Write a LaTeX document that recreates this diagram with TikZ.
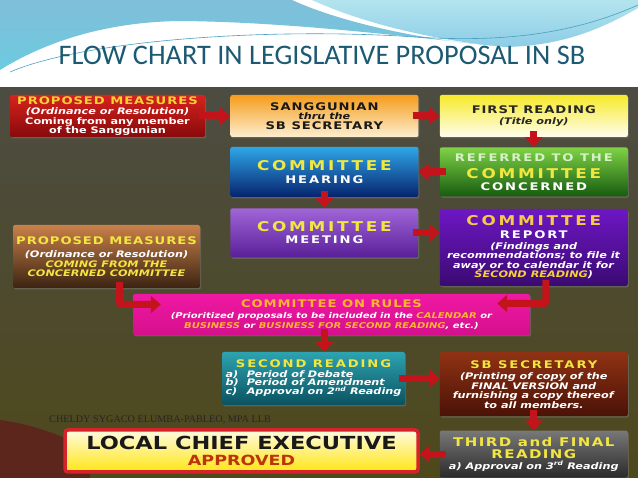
\documentclass[tikz,border=0pt]{standalone}
\usepackage{fontspec}
\usepackage{xcolor}
\usetikzlibrary{positioning, arrows.meta, shadows}
\setmainfont{DejaVu Sans}
\newfontfamily\boxfont[FakeStretch=1.25]{DejaVu Sans}
\newfontfamily\titlefont{Carlito}
\newfontfamily\creditfont{Liberation Serif}

\definecolor{titleblue}{HTML}{1C5A74}
\definecolor{swooshblue}{HTML}{80BED9}
\definecolor{swooshblue2}{HTML}{6CCBDF}
\definecolor{swooshcyan}{HTML}{B3E4EE}
\definecolor{swooshcyan2}{HTML}{8CCDE6}
\definecolor{swooshline}{HTML}{4A9FC0}
\definecolor{bgtop}{HTML}{4D4C42}
\definecolor{bgbottom}{HTML}{4E491B}
\definecolor{swooshred}{HTML}{5C261C}
\definecolor{hdyellow}{HTML}{F2E640}
\definecolor{goldyellow}{HTML}{F4D234}
\definecolor{reportgold}{HTML}{F6C94A}
\definecolor{refgreen}{HTML}{D8F0C8}
\definecolor{rulesorange}{HTML}{FFB431}
\definecolor{arrowred}{HTML}{C3141C}
\definecolor{pmredA}{HTML}{D6231F}
\definecolor{pmredB}{HTML}{880A0A}
\definecolor{sanA}{HTML}{F59C1B}
\definecolor{sanB}{HTML}{FDEFD0}
\definecolor{firstA}{HTML}{F6EA2A}
\definecolor{firstB}{HTML}{FFFDEE}
\definecolor{hearA}{HTML}{2EA7E8}
\definecolor{hearB}{HTML}{07236E}
\definecolor{refA}{HTML}{7FD245}
\definecolor{refB}{HTML}{175C10}
\definecolor{meetA}{HTML}{A066D8}
\definecolor{meetB}{HTML}{5A1F98}
\definecolor{reportA}{HTML}{6E17C4}
\definecolor{reportB}{HTML}{3A0A72}
\definecolor{pmbrownA}{HTML}{C9804A}
\definecolor{pmbrownB}{HTML}{3B2412}
\definecolor{rulesA}{HTML}{F018A4}
\definecolor{rulesB}{HTML}{D4108C}
\definecolor{secondA}{HTML}{2EA3B0}
\definecolor{secondB}{HTML}{0B5260}
\definecolor{sbsecA}{HTML}{8F3213}
\definecolor{sbsecB}{HTML}{4A1207}
\definecolor{thirdA}{HTML}{787878}
\definecolor{thirdB}{HTML}{2A2A2A}
\definecolor{lcered}{HTML}{D4242A}
\definecolor{lceA}{HTML}{FFFBE0}
\definecolor{lceB}{HTML}{FFE614}
\definecolor{approvedred}{HTML}{C0320A}
\definecolor{creditgray}{HTML}{262626}

\newcommand{\bigword}[1]{{\fontsize{13.5}{14}\selectfont\addfontfeature{LetterSpace=20}#1}}
\newcommand{\capword}[1]{{\fontsize{10.5}{11}\selectfont\addfontfeature{LetterSpace=18}#1}}
\newcommand{\headword}[1]{{\fontsize{10.5}{11}\selectfont\addfontfeature{LetterSpace=9}#1}}
\newcommand{\thirdword}[1]{{\fontsize{12}{13}\selectfont\addfontfeature{LetterSpace=12}#1}}
\newcommand{\rulesline}[1]{{\fontsize{8}{9}\selectfont\itshape #1}}

\begin{document}
\begin{tikzpicture}
        [
        x=1pt, y=-1pt,
        box/.style = {rounded corners=2pt, inner sep=1pt, align=center,
            font=\boxfont\bfseries\fontsize{9}{9.5}\selectfont,
            drop shadow={shadow xshift=1pt, shadow yshift=-1.5pt, opacity=0.45}},
        lcebox/.style = {rounded corners=3pt, draw=lcered, line width=3.5pt, inner sep=1pt,
            align=center, font=\boxfont\bfseries\fontsize{14}{15}\selectfont, text=black!90},
        bigarrow/.style = {draw=arrowred, line width=7pt, rounded corners=2pt,
            shorten <=-6pt, -{Triangle[width=17pt,length=10pt]}}
        ]
    \useasboundingbox (0,0) rectangle (638,478);
    \fill[white] (0,0) rectangle (638,88);
    \shade[top color=swooshblue, bottom color=swooshblue2]
        (0,0) -- (292,0) .. controls (340,22) and (420,40) .. (498,46)
        .. controls (400,36) and (290,22) .. (180,21)
        .. controls (100,22) and (40,45) .. (0,70) -- cycle;
    \shade[top color=swooshcyan, bottom color=swooshcyan2]
        (312,0) -- (638,0) -- (638,8) .. controls (600,30) and (560,46) .. (505,47)
        .. controls (430,40) and (360,22) .. (312,0) -- cycle;
    \draw[swooshline, line width=0.6pt] (10,72) .. controls (80,42) and (250,28) .. (400,36)
        .. controls (480,42) and (560,40) .. (638,5);
    \shade[top color=bgtop, bottom color=bgbottom] (0,88) rectangle (638,478);
    \fill[swooshred] (0,420) .. controls (30,424) and (60,434) .. (90,450) -- (90,478) -- (0,478) -- cycle;

    \node[font=\titlefont\fontsize{28.3}{29}\selectfont, text=titleblue, anchor=base] (title) at (322,65)
        {FLOW CHART IN LEGISLATIVE PROPOSAL IN SB};

    \node[box, minimum width=195pt, minimum height=42pt, top color=pmredA, bottom color=pmredB, text=white] (pm1) at (107.5,116)
        {\headword{\color{goldyellow}PROPOSED MEASURES}\\[1pt] \textit{(Ordinance or Resolution)}\\ Coming from any member\\ of the Sanggunian};
    \node[box, right=25pt of pm1, minimum width=188pt, minimum height=42pt, top color=sanA, bottom color=sanB, text=black!90] (san)
        {\headword{SANGGUNIAN}\\ \textit{thru the}\\ \headword{SB SECRETARY}};
    \node[box, right=21pt of san, minimum width=188pt, minimum height=42pt, top color=firstA, bottom color=firstB, text=black!85] (first)
        {\headword{FIRST READING}\\[2pt] \textit{(Title only)}};
    \node[box, below=10pt of first, minimum width=188pt, minimum height=49pt, top color=refA, bottom color=refB, text=white] (ref)
        {\capword{\color{refgreen}REFERRED TO THE}\\[6pt] \bigword{\color{hdyellow}COMMITTEE}\\[2pt] \capword{CONCERNED}};
    \node[box, left=21pt of ref, minimum width=188pt, minimum height=50pt, top color=hearA, bottom color=hearB, text=white] (hear)
        {\bigword{\color{hdyellow}COMMITTEE}\\[3pt] \capword{HEARING}};
    \node[box, below=11pt of hear, minimum width=188pt, minimum height=49pt, top color=meetA, bottom color=meetB, text=white] (meet)
        {\bigword{\color{hdyellow}COMMITTEE}\\[3pt] \capword{MEETING}};
    \node[box, below=12pt of ref, minimum width=188pt, minimum height=77pt, top color=reportA, bottom color=reportB, text=white] (report)
        {\bigword{\color{reportgold}COMMITTEE}\\[3pt] \capword{REPORT}\\[1.5pt] \textit{(Findings and}\\ \textit{recommendations; to file it}\\
         \textit{away or to calendar it for}\\ \textit{{\color{goldyellow}SECOND READING})}};
    \node[box, minimum width=187pt, minimum height=63pt, top color=pmbrownA, bottom color=pmbrownB, text=white] (pm2) at (106.5,256.5)
        {\headword{\color{hdyellow}PROPOSED MEASURES}\\[4pt] \textit{(Ordinance or Resolution)}\\
         \textit{\color{hdyellow}COMING FROM THE}\\ \textit{\color{hdyellow}CONCERNED COMMITTEE}};
    \node[box, minimum width=397pt, minimum height=41pt, top color=rulesA, bottom color=rulesB, text=white] (rules) at (331.5,314.5)
        {\headword{\color{rulesorange}COMMITTEE ON RULES}\\[1.5pt]
         \rulesline{(Prioritized proposals to be included in the {\color{rulesorange}CALENDAR} or}\\
         \rulesline{{\color{rulesorange}BUSINESS} or {\color{rulesorange}BUSINESS FOR SECOND READING}, etc.)}};
    \node[box, minimum width=183pt, minimum height=53pt, top color=secondA, bottom color=secondB, text=white] (second) at (313.5,378.5)
        {\capword{\color{hdyellow}SECOND READING}\\[2pt]
         {\itshape\begin{tabular}{@{}l@{\hspace{8pt}}l@{}}
         a) & Period of Debate\\[-1.5pt] b) & Period of Amendment\\[-1.5pt] c) & Approval on 2\textsuperscript{nd} Reading
         \end{tabular}}};
    \node[box, below=66pt of report, minimum width=188pt, minimum height=64pt, top color=sbsecA, bottom color=sbsecB, text=white] (sbsec)
        {\capword{\color{hdyellow}SB SECRETARY}\\[2pt] \textit{(Printing of copy of the}\\ \textit{FINAL VERSION and}\\
         \textit{furnishing a copy thereof}\\ \textit{to all members.}};
    \node[box, below=14pt of sbsec, minimum width=188pt, minimum height=47pt, top color=thirdA, bottom color=thirdB, text=white] (third)
        {\thirdword{\color{hdyellow}THIRD and FINAL}\\[3pt] \thirdword{\color{hdyellow}READING}\\[1pt] \textit{a) Approval on 3\textsuperscript{rd} Reading}};
    \node[lcebox, minimum width=353pt, minimum height=42pt, top color=lceA, bottom color=lceB] (lce) at (241.5,451)
        {{\fontsize{18}{19}\selectfont LOCAL CHIEF EXECUTIVE}\\[1pt] {\color{approvedred}APPROVED}};

    \node[font=\creditfont\fontsize{10.2}{10}\selectfont, text=creditgray, anchor=base west, inner sep=0pt] (credit) at (49,423)
        {CHELDY SYGACO ELUMBA-PABLEO, MPA LLB};

    \draw[bigarrow] (pm1) -- (san);
    \draw[bigarrow] (san) -- (first);
    \draw[bigarrow] (first) -- (ref);
    \draw[bigarrow] (ref) -- (hear);
    \draw[bigarrow] (hear) -- (meet);
    \draw[bigarrow] (meet.east) -- (meet.east -| report.west);
    \draw[bigarrow] ([xshift=13pt]pm2.south) |- ([xshift=28pt,yshift=10pt]rules.west);
    \draw[bigarrow] ([xshift=12pt]report.south) |- ([xshift=-33pt,yshift=11pt]rules.east);
    \draw[bigarrow] (rules.south -| hear.south) -- (second.north -| hear.south);
    \draw[bigarrow] (second.east) -- (second.east -| sbsec.west);
    \draw[bigarrow] (sbsec) -- (third);
    \draw[bigarrow] (third.west) -- (third.west -| lce.east);
\end{tikzpicture}
\end{document}
